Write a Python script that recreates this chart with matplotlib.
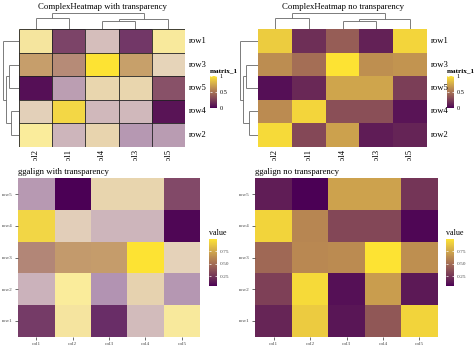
import numpy as np
import matplotlib
matplotlib.use("Agg")
import matplotlib.pyplot as plt
from matplotlib.colors import ListedColormap, Normalize
from matplotlib.cm import ScalarMappable
from matplotlib.transforms import Bbox, TransformedBbox

plt.rcParams['font.family'] = ['Liberation Serif', 'DejaVu Serif']

# ---------------- data ----------------
row_names = ["row1", "row2", "row3", "row4", "row5"]
col_names = ["col1", "col2", "col3", "col4", "col5"]
values = np.array([
    [0.18, 0.90, 0.12, 0.40, 0.94],
    [0.30, 0.96, 0.10, 0.71, 0.13],
    [0.48, 0.62, 0.63, 1.00, 0.65],
    [0.94, 0.61, 0.33, 0.33, 0.07],
    [0.15, 0.05, 0.73, 0.73, 0.25],
])
alphas = np.array([
    [0.90, 0.50, 0.90, 0.40, 0.50],
    [0.40, 0.50, 0.45, 0.45, 0.45],
    [0.80, 0.85, 0.85, 1.00, 0.40],
    [0.95, 0.40, 0.40, 0.40, 1.00],
    [0.45, 1.00, 0.45, 0.45, 0.90],
])
# dendrograms: (left, right, merge height)
col_tree = (("col2", "col1", 0.67), (("col4", "col3", 0.50), "col5", 0.62), 1.0)
row_tree = ("row1", (("row3", "row5", 0.64), ("row4", "row2", 0.50), 0.83), 1.0)
low_color, high_color = "#4B0055", "#FDE333"

# ---------------- colour ramp in LAB ----------------
def _srgb_to_lab(hexc):
    c = np.array([int(hexc[i:i + 2], 16) / 255 for i in (1, 3, 5)])
    lin = np.where(c <= 0.04045, c / 12.92, ((c + 0.055) / 1.055) ** 2.4)
    M = np.array([[0.4124564, 0.3575761, 0.1804375],
                  [0.2126729, 0.7151522, 0.0721750],
                  [0.0193339, 0.1191920, 0.9503041]])
    xyz = M @ lin / np.array([0.95047, 1.0, 1.08883])
    d = 6 / 29
    f = np.where(xyz > d ** 3, np.cbrt(xyz), xyz / (3 * d * d) + 4 / 29)
    return np.array([116 * f[1] - 16, 500 * (f[0] - f[1]), 200 * (f[1] - f[2])])

def _lab_to_srgb(lab):
    L, a, b = lab
    fy = (L + 16) / 116
    fx = fy + a / 500
    fz = fy - b / 200
    d = 6 / 29
    f = np.array([fx, fy, fz])
    xyz = np.where(f > d, f ** 3, 3 * d * d * (f - 4 / 29)) * np.array([0.95047, 1.0, 1.08883])
    Minv = np.array([[3.2404542, -1.5371385, -0.4985314],
                     [-0.9692660, 1.8760108, 0.0415560],
                     [0.0556434, -0.2040259, 1.0572252]])
    lin = np.clip(Minv @ xyz, 0, 1)
    c = np.where(lin <= 0.0031308, 12.92 * lin, 1.055 * lin ** (1 / 2.4) - 0.055)
    return np.clip(c, 0, 1)

lab0, lab1 = _srgb_to_lab(low_color), _srgb_to_lab(high_color)
cmap = ListedColormap([_lab_to_srgb(lab0 + (lab1 - lab0) * t) for t in np.linspace(0, 1, 256)])

# ---------------- layout helpers ----------------
W, H = 474, 349
fig = plt.figure(figsize=(W / 100, H / 100), dpi=100)

def add_ax(l, t, r, b):
    ax = fig.add_axes([l / W, 1 - b / H, (r - l) / W, (b - t) / H])
    return ax

def leaves(node):
    if isinstance(node, str):
        return [node]
    return leaves(node[0]) + leaves(node[1])

def draw_dendro(ax, tree, orient):
    order = leaves(tree)
    segs = []
    def rec(node):
        if isinstance(node, str):
            return order.index(node) + 0.5, 0.0
        p1, h1 = rec(node[0])
        p2, h2 = rec(node[1])
        h = node[2]
        segs.extend([((p1, h1), (p1, h)), ((p2, h2), (p2, h)), ((p1, h), (p2, h))])
        return (p1 + p2) / 2, h
    rec(tree)
    for (a, b) in segs:
        if orient == "top":
            ax.plot([a[0], b[0]], [a[1], b[1]], color="#666666", lw=0.6, solid_capstyle="butt")
        else:
            ax.plot([a[1], b[1]], [a[0], b[0]], color="#666666", lw=0.6, solid_capstyle="butt")
    if orient == "top":
        ax.set_xlim(0, len(order)); ax.set_ylim(0, 1.0)
    else:
        ax.set_ylim(len(order), 0); ax.set_xlim(1.0, 0)
    ax.axis("off")

clip_top = TransformedBbox(Bbox([[0, 1 - 161 / H], [1, 1]]), fig.transFigure)

def complex_heatmap(x0, body, dendro_left, title, transparent, legend_x):
    l, t, r, b = body
    row_order = leaves(row_tree)
    col_order = leaves(col_tree)
    ri = [row_names.index(n) for n in row_order]
    ci = [col_names.index(n) for n in col_order]
    M = values[np.ix_(ri, ci)]
    A = alphas[np.ix_(ri, ci)]
    norm = Normalize(0, 1)
    ax = add_ax(l, t, r, b)
    mesh = ax.pcolormesh(np.arange(len(ci) + 1), np.arange(len(ri) + 1), M, cmap=cmap, norm=norm)
    if transparent:
        mesh.set_alpha(A.ravel())
        ax.hlines(np.arange(len(ri) + 1), 0, len(ci), color="#222222", lw=0.6)
        ax.vlines(np.arange(len(ci) + 1), 0, len(ri), color="#222222", lw=0.6)
    ax.set_xlim(0, len(ci)); ax.set_ylim(len(ri), 0)
    ax.axis("off")
    # dendrograms
    draw_dendro(add_ax(l, 13, r, t), col_tree, "top")
    draw_dendro(add_ax(dendro_left, t, l, b), row_tree, "left")
    fig.text(((l + r) / 2) / W, 1 - 7 / H, title, ha="center", va="center", fontsize=6.3)
    ch = (b - t) / len(ri)
    for k, n in enumerate(row_order):
        fig.text((r + 4) / W, 1 - (t + ch * (k + 0.5)) / H, n, ha="left", va="center", fontsize=6.2)
    cw = (r - l) / len(ci)
    for k, n in enumerate(col_order):
        tx = fig.text((l + cw * (k + 0.5)) / W, 1 - (b + 2) / H, n, ha="center", va="top",
                      rotation=90, fontsize=6.2)
        tx.set_clip_on(True)
        tx.set_clip_box(clip_top)
    # legend
    fig.text(legend_x / W, 1 - 71 / H, "matrix_1", ha="left", va="center", fontsize=5.2,
             fontweight="bold")
    cax = add_ax(legend_x, 76, legend_x + 7, 108)
    cb = fig.colorbar(ScalarMappable(norm=norm, cmap=cmap), cax=cax)
    cb.outline.set_visible(False)
    cb.set_ticks([0, 0.5, 1], labels=["0", "0.5", "1"])
    cax.tick_params(axis="y", right=True, left=True, direction="in", length=1.5, width=0.5,
                    color="white", labelsize=4.5, pad=2)

def gg_heatmap(panel, title, transparent, legend_x):
    l, t, r, b = panel
    ax = add_ax(l, t, r, b)
    vmin, vmax = values.min(), values.max()
    norm = Normalize(vmin, vmax)
    mesh = ax.pcolormesh(np.arange(len(col_names) + 1), np.arange(len(row_names) + 1), values,
                         cmap=cmap, norm=norm)
    if transparent:
        mesh.set_alpha(alphas.ravel())
    ax.set_xlim(0, len(col_names)); ax.set_ylim(0, len(row_names))
    ax.set_xticks(np.arange(len(col_names)) + 0.5, labels=col_names)
    ax.set_yticks(np.arange(len(row_names)) + 0.5, labels=row_names)
    ax.tick_params(length=2.2, width=0.5, color="#333333", labelsize=3.8, labelcolor="#4D4D4D", pad=1.5)
    for s in ax.spines.values():
        s.set_visible(False)
    fig.text(l / W, 1 - 172 / H, title, ha="left", va="center", fontsize=6.3)
    fig.text(legend_x / W, 1 - 233 / H, "value", ha="left", va="center", fontsize=5.8)
    cax = add_ax(legend_x, 239, legend_x + 8, 286)
    cb = fig.colorbar(ScalarMappable(norm=norm, cmap=cmap), cax=cax)
    cb.outline.set_visible(False)
    cb.set_ticks([0.25, 0.5, 0.75], labels=["0.25", "0.50", "0.75"])
    cax.tick_params(axis="y", right=True, left=True, direction="in", length=1.6, width=0.5,
                    color="white", labelsize=3.9, labelcolor="#4D4D4D", pad=2)

complex_heatmap(0, (19, 29.3, 185, 146.7), 3, "ComplexHeatmap with transparency", True, 210)
complex_heatmap(237, (258, 29.3, 427, 146.7), 240, "ComplexHeatmap no transparency", False, 447)
gg_heatmap((18.3, 178.3, 200, 336.7), "ggalign with transparency", True, 209)
gg_heatmap((255.3, 178.3, 437.7, 336.7), "ggalign no transparency", False, 446)

fig.savefig("out.png", dpi=100)
